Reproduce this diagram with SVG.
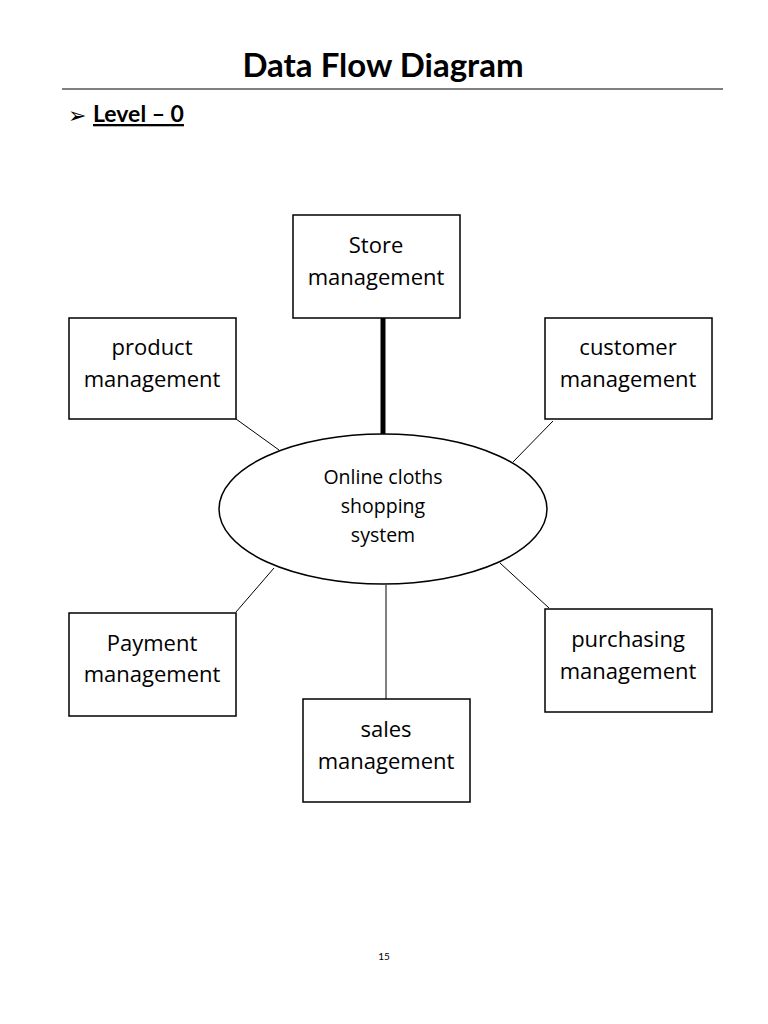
<svg xmlns="http://www.w3.org/2000/svg" width="768" height="1024" viewBox="0 0 768 1024">
<style>
.box{fill:#fff;stroke:#000;stroke-width:1.5}
.t{font-family:"Open Sans","Liberation Sans",sans-serif;font-size:22px;text-anchor:middle;fill:#000}
.s{font-family:"Open Sans","Liberation Sans",sans-serif;font-size:19.5px;text-anchor:middle;fill:#000}
.c{stroke:#000;stroke-width:1}
</style>
<rect width="768" height="1024" fill="#fff"/>
<text x="383" y="77" font-family="Lato,'Liberation Sans',sans-serif" font-weight="bold" font-size="33" text-anchor="middle">Data Flow Diagram</text>
<line x1="62" y1="89" x2="723" y2="89" stroke="#000" stroke-width="1"/>
<text x="68" y="123" font-family="'DejaVu Sans',sans-serif" font-size="22">➢</text>
<text x="93" y="122" font-family="Lato,'Liberation Sans',sans-serif" font-weight="bold" font-size="23" text-decoration="underline">Level – 0</text>
<g id="connectors">
<line x1="383" y1="318" x2="383" y2="434" stroke="#000" stroke-width="5"/>
<line class="c" x1="236" y1="419" x2="279" y2="450"/>
<line class="c" x1="553" y1="421" x2="513" y2="462"/>
<line class="c" x1="274" y1="568" x2="236" y2="612"/>
<line class="c" x1="500" y1="563" x2="549" y2="608"/>
<line class="c" x1="386" y1="585" x2="386" y2="700"/>
</g>
<g id="center"><ellipse cx="383" cy="509" rx="164" ry="75" class="box"/>
<text class="s" x="383" y="484">Online cloths</text><text class="s" x="383" y="513">shopping</text><text class="s" x="383" y="542">system</text></g>
<g id="store"><rect class="box" x="293" y="215" width="167" height="103"/><text class="t" x="376" y="253">Store</text><text class="t" x="376" y="285">management</text></g>
<g id="product"><rect class="box" x="69" y="318" width="167" height="101"/><text class="t" x="152" y="355">product</text><text class="t" x="152" y="387">management</text></g>
<g id="customer"><rect class="box" x="545" y="318" width="167" height="101"/><text class="t" x="628" y="355">customer</text><text class="t" x="628" y="387">management</text></g>
<g id="payment"><rect class="box" x="69" y="613" width="167" height="103"/><text class="t" x="152" y="651">Payment</text><text class="t" x="152" y="682">management</text></g>
<g id="purchasing"><rect class="box" x="545" y="609" width="167" height="103"/><text class="t" x="628" y="647">purchasing</text><text class="t" x="628" y="679">management</text></g>
<g id="sales"><rect class="box" x="303" y="699" width="167" height="103"/><text class="t" x="386" y="737">sales</text><text class="t" x="386" y="769">management</text></g>
<text x="384" y="960" font-family="Lato,'Liberation Sans',sans-serif" font-size="10" text-anchor="middle">15</text>
</svg>
